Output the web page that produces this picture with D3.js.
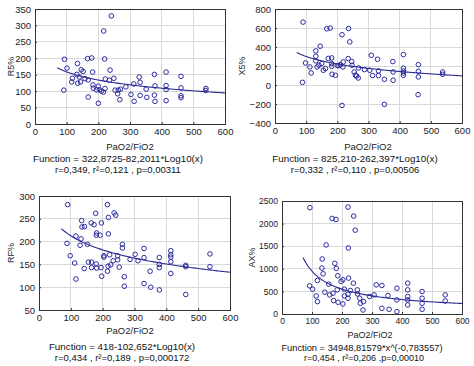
<!DOCTYPE html>
<html><head><meta charset="utf-8">
<script src="https://cdn.jsdelivr.net/npm/d3@7"></script>
<style>
html,body{margin:0;padding:0;background:#fff;}
svg{display:block;font-family:"Liberation Sans",Arial,sans-serif;}
</style></head>
<body>
<svg id="c" width="474" height="366"></svg>
<script>
// ---- data ----
const xTicks = [0,100,200,300,400,500,600];

const r5X = [93,91,101,116,118,134,132,140,135,144,146,152,158,166,179,168,168,182,183,184,194,200,200,203,210,216,217,220,222,221,235,237,241,249,253,263,261,268,270,287,303,312,313,329,332,332,351,353,377,379,377,379,414,414,414,414,461,461,461,461,540,539];
const r5Y = [197,103,170,128,139,184,151,143,124,128,165,160,138,199,201,134,82,158,119,109,104,115,63,104,100,97,283,198,137,108,133,164,329,139,103,103,92,74,106,113,90,122,69,143,87,127,106,81,151,116,88,69,158,117,105,71,145,110,86,80,108,102];
const r5Ticks = [0,50,100,150,200,250,300,350];

const x5X = [90,88,98,112,116,131,131,131,145,135,141,150,155,162,166,177,171,182,182,182,183,194,200,205,210,215,218,215,219,236,235,240,246,247,254,258,262,267,268,287,304,309,313,329,332,332,351,351,378,379,379,412,412,412,412,412,460,460,460,459,538,538];
const x5Y = [662,28,232,190,127,359,303,254,408,190,208,225,155,173,592,599,280,285,225,197,113,102,204,204,215,529,190,-215,243,595,278,454,247,208,137,102,95,74,180,162,155,313,99,271,148,99,60,-204,247,137,50,320,177,148,127,102,215,144,85,-102,137,113];
const x5Ticks = [-400,-200,0,200,400,600,800];

const rfX = [90,88,98,112,116,116,132,129,134,135,143,142,152,155,165,165,164,173,178,180,181,181,180,192,196,197,195,204,204,215,218,218,217,215,222,225,236,241,233,247,247,252,262,262,268,268,286,302,311,330,330,330,349,351,378,378,378,378,414,414,414,414,414,461,461,461,537,537];
const rfY = [281,196,169,153,118,212,206,192,246,232,233,141,194,155,155,143,241,237,262,151,219,142,214,214,241,124,143,169,166,281,253,217,146,135,171,149,263,258,158,169,160,144,194,186,123,102,161,172,158,185,165,108,135,100,165,150,143,94,180,171,166,156,130,148,145,84,173,145];
const rfTicks = [50,100,150,200,250,300];

const axX = [93,92,102,114,118,118,134,133,137,147,143,156,159,167,180,170,172,176,181,184,186,187,197,203,203,208,208,220,221,222,220,220,228,238,239,244,251,252,259,261,272,270,292,307,314,333,333,353,357,383,383,383,419,419,419,419,419,467,467,467,467,544,544];
const axY = [2352,623,549,400,274,742,1217,1016,890,1528,482,660,423,2114,2092,460,297,1120,1009,534,846,260,720,757,223,549,400,2366,1461,794,438,349,519,682,2166,1855,534,445,349,237,274,89,386,423,645,631,126,408,104,571,312,52,682,534,386,312,200,497,349,237,104,423,289];
const axTicks = [0,500,1000,1500,2000,2500];

const yLabels = ["R5%","X5%","RF%","AX%"];
const xLabel = "PaO2/FiO2";
const funcTexts = ["Function = 322,8725-82,2011*Log10(x)","Function = 825,210-262,397*Log10(x)","Function = 418-102,652*Log10(x)","Function = 34948,81579*x^(-0,783557)"];
const statTexts = ["r=0,349, r²=0,121 , p=0,00311","r=0,332 , r²=0,110 , p=0,00506","r=0,434 , r²=0,189 , p=0,000172","r=0,454 , r²=0,206 ,p=0,00010"];

// fitted functions (from the printed equations)
const fits = [
  x => 322.8725 - 82.2011*Math.log10(x),
  x => 825.210 - 262.397*Math.log10(x),
  x => 418 - 102.652*Math.log10(x),
  x => 34948.81579*Math.pow(x,-0.783557)
];
const curveXs = d3.range(70, 601, 5);

// ---- layout ----
const panels = [
  {xs:r5X, ys:r5Y, ticks:r5Ticks, x0:35, x1:225, yTop:9, yBot:124, ylx:11, lblY:146, lblX:130, fY:158, fX:118, sY:169, sX:118, tf:9.5, tx:9.5, ff:9.8, sf:9.5},
  {xs:x5X, ys:x5Y, ticks:x5Ticks, x0:275, x1:462, yTop:9, yBot:123, ylx:242, lblY:146, lblX:368, fY:158, fX:355, sY:169, sX:355, tf:9.5, tx:9.5, ff:9.8, sf:9.5},
  {xs:rfX, ys:rfY, ticks:rfTicks, x0:39, x1:230, yTop:196, yBot:310, ylx:11, lblY:330, lblX:130, fY:346, fX:122, sY:357, sX:122, tf:9.5, tx:9.5, ff:9.8, sf:9.5},
  {xs:axX, ys:axY, ticks:axTicks, x0:282, x1:462, yTop:201, yBot:314, ylx:252, lblY:335, lblX:370, fY:348, fX:362, sY:358, sX:364, tf:8.5, tx:9, ff:9.3, sf:9}
];

const svg = d3.select("#c");
const ptColor = "#2c2ca0", lineColor = "#2a2a90";

panels.forEach((p, i) => {
  const g = svg.append("g");
  const x = d3.scaleLinear().domain([0,600]).range([p.x0, p.x1]);
  const y = d3.scaleLinear().domain([p.ticks[0], p.ticks[p.ticks.length-1]]).range([p.yBot, p.yTop]);

  // grid
  g.append("g").selectAll("line").data(xTicks.slice(1,-1)).join("line")
    .attr("x1", d=>x(d)).attr("x2", d=>x(d)).attr("y1", p.yTop).attr("y2", p.yBot)
    .attr("stroke","#d9d9d9").attr("stroke-width",1).attr("shape-rendering","crispEdges");
  g.append("g").selectAll("line").data(p.ticks.slice(1,-1)).join("line")
    .attr("y1", d=>y(d)).attr("y2", d=>y(d)).attr("x1", p.x0).attr("x2", p.x1)
    .attr("stroke","#d9d9d9").attr("stroke-width",1).attr("shape-rendering","crispEdges");

  // axes
  const xa = g.append("g").attr("transform",`translate(0,${p.yBot})`)
    .call(d3.axisBottom(x).tickValues(xTicks).tickFormat(d3.format("d")).tickSize(-2).tickPadding(4));
  const ya = g.append("g").attr("transform",`translate(${p.x0},0)`)
    .call(d3.axisLeft(y).tickValues(p.ticks).tickFormat(d3.format("d")).tickSize(-2).tickPadding(4));
  [xa, ya].forEach(a => {
    a.select(".domain").remove();
    a.selectAll("line").attr("stroke","#333");
    a.selectAll("text").attr("font-size",p.tf+"px").attr("fill","#222");
  });

  // frame
  g.append("rect").attr("x",p.x0).attr("y",p.yTop).attr("width",p.x1-p.x0).attr("height",p.yBot-p.yTop)
    .attr("fill","none").attr("stroke","#333").attr("stroke-width",1).attr("shape-rendering","crispEdges");

  // clip
  const cid = "clip"+i;
  g.append("clipPath").attr("id",cid).append("rect")
    .attr("x",p.x0).attr("y",p.yTop).attr("width",p.x1-p.x0).attr("height",p.yBot-p.yTop);

  // fit curve
  g.append("path").datum(curveXs).attr("clip-path",`url(#${cid})`)
    .attr("d", d3.line().x(d=>x(d)).y(d=>y(fits[i](d))))
    .attr("fill","none").attr("stroke",lineColor).attr("stroke-width",1.1);

  // points
  g.append("g").selectAll("circle").data(p.xs.map((v,k)=>[v,p.ys[k]])).join("circle")
    .attr("cx", d=>x(d[0])).attr("cy", d=>y(d[1])).attr("r",2.3)
    .attr("fill","none").attr("stroke",ptColor).attr("stroke-width",1);

  // labels
  g.append("text").attr("transform",`translate(${p.ylx},${(p.yTop+p.yBot)/2}) rotate(-90)`)
    .attr("text-anchor","middle").attr("dominant-baseline","central")
    .attr("font-size","9px").attr("fill","#222").text(yLabels[i]);
  g.append("text").attr("x",p.lblX).attr("y",p.lblY).attr("text-anchor","middle").attr("dominant-baseline","central")
    .attr("font-size",p.tx+"px").attr("fill","#222").text(xLabel);
  g.append("text").attr("x",p.fX).attr("y",p.fY).attr("text-anchor","middle").attr("dominant-baseline","central")
    .attr("font-size",p.ff+"px").attr("fill","#111").text(funcTexts[i]);
  g.append("text").attr("x",p.sX).attr("y",p.sY).attr("text-anchor","middle").attr("dominant-baseline","central")
    .attr("font-size",p.sf+"px").attr("fill","#111").text(statTexts[i]);
});
</script>
</body></html>
